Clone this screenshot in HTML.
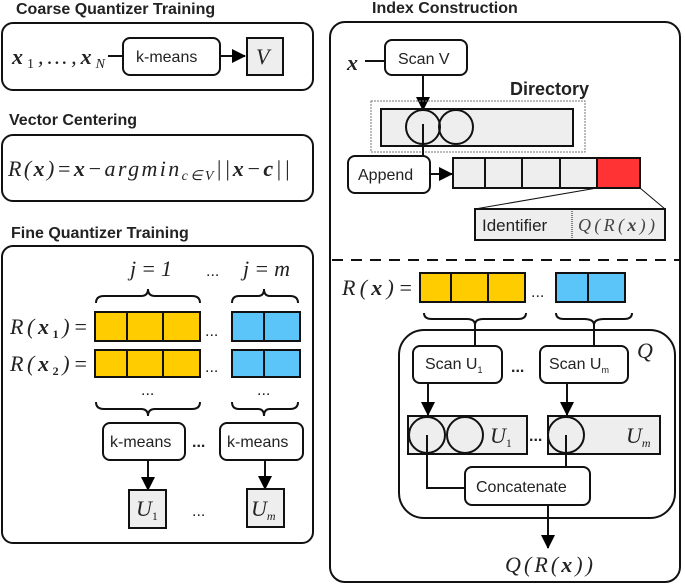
<!DOCTYPE html>
<html><head><style>
body{margin:0;background:#fff}
svg{display:block}
.t{font-family:"Liberation Sans",sans-serif;font-weight:bold;font-size:16px;fill:#222}
.s{font-family:"Liberation Sans",sans-serif;font-size:16px;fill:#222}
.m{font-family:"Liberation Serif",serif;font-style:italic;font-size:22px;fill:#222}
.b{font-weight:bold}
</style></head><body>
<svg width="685" height="585" viewBox="0 0 685 585" xmlns="http://www.w3.org/2000/svg">
<defs><marker id="a2" markerWidth="14" markerHeight="14" refX="13" refY="7" orient="auto" markerUnits="userSpaceOnUse"><path d="M0,0L14,7L0,14z" fill="#000"/></marker></defs>
<g fill="none" stroke="#111" stroke-width="2">
<rect x="2" y="23" width="311" height="67" rx="11"/>
<rect x="2" y="135" width="311" height="66" rx="11"/>
<rect x="2" y="246" width="311" height="297" rx="11"/>
<rect x="123" y="38" width="97" height="37" rx="7" fill="#fff"/>
<rect x="247" y="38" width="36" height="37" fill="#eee"/>
<line x1="108" y1="56" x2="123" y2="56"/>
<line x1="220" y1="56" x2="245" y2="56" marker-end="url(#a2)"/>
<path d="M96,303 q0,-7 8,-7 h37 q7,0 7,-7 q0,7 7,7 h37 q8,0 8,7"/>
<path d="M232,303 q0,-7 7,-7 h19 q6,0 6,-7 q0,7 6,7 h20 q8,0 8,7"/>
<rect x="95" y="312" width="105" height="29" fill="#fc0"/>
<line x1="127" y1="312" x2="127" y2="341"/><line x1="163" y1="312" x2="163" y2="341"/>
<rect x="232" y="312" width="68" height="29" fill="#5bc5fa"/>
<line x1="264" y1="312" x2="264" y2="341"/>
<rect x="95" y="350" width="105" height="27" fill="#fc0"/>
<line x1="127" y1="350" x2="127" y2="377"/><line x1="163" y1="350" x2="163" y2="377"/>
<rect x="232" y="350" width="68" height="27" fill="#5bc5fa"/>
<line x1="264" y1="350" x2="264" y2="377"/>
<path d="M96,402 q0,7 8,7 h37 q7,0 7,7 q0,-7 7,-7 h37 q8,0 8,-7"/>
<path d="M232,402 q0,7 7,7 h19 q6,0 6,7 q0,-7 6,-7 h20 q8,0 8,-7"/>
<rect x="103" y="423" width="82" height="37" rx="7" fill="#fff"/>
<rect x="220" y="423" width="83" height="37" rx="7" fill="#fff"/>
<line x1="148" y1="460" x2="148" y2="490" marker-end="url(#a2)"/>
<line x1="265" y1="460" x2="265" y2="489" marker-end="url(#a2)"/>
<rect x="129" y="490" width="37" height="38" fill="#eee"/>
<rect x="247" y="489" width="37" height="38" fill="#eee"/>
<rect x="330" y="22" width="350" height="560" rx="15"/>
<line x1="365" y1="61" x2="385" y2="61"/>
<rect x="385" y="40" width="82" height="35" rx="7" fill="#fff"/>
<line x1="423" y1="75" x2="423" y2="110" marker-end="url(#a2)"/>
<rect x="371" y="101" width="214" height="51" stroke-width="1" stroke="#777" stroke-dasharray="2,1"/>
<rect x="381" y="109" width="192" height="37" fill="#eee"/>
<circle cx="423" cy="127" r="17"/><circle cx="456" cy="127" r="17"/>
<line x1="423" y1="124" x2="423" y2="157"/>
<rect x="348" y="156" width="82" height="37" rx="7" fill="#fff"/>
<line x1="430" y1="174" x2="452" y2="174" marker-end="url(#a2)"/>
<rect x="453" y="158" width="187" height="30" fill="#eee"/>
<rect x="597" y="158" width="43" height="30" fill="#f33"/>
<line x1="485" y1="158" x2="485" y2="188"/><line x1="522" y1="158" x2="522" y2="188"/><line x1="560" y1="158" x2="560" y2="188"/>
<line x1="597" y1="188" x2="475" y2="209" stroke-width="1"/><line x1="640" y1="188" x2="665" y2="209" stroke-width="1"/>
<rect x="475" y="209" width="190" height="31" fill="#eee"/>
<line x1="572" y1="209" x2="572" y2="240" stroke-width="1" stroke-dasharray="1,1"/>
<line x1="332" y1="260" x2="680" y2="260" stroke-dasharray="11,8"/>
<rect x="420" y="273" width="105" height="29" fill="#fc0"/>
<line x1="451" y1="273" x2="451" y2="302"/><line x1="488" y1="273" x2="488" y2="302"/>
<rect x="556" y="273" width="69" height="29" fill="#5bc5fa"/>
<line x1="588" y1="273" x2="588" y2="302"/>
<path d="M424,313 q0,6 8,6 h35 q8,0 8,6 q0,-6 8,-6 h35 q8,0 8,-6"/>
<path d="M556,313 q0,6 8,6 h20 q10,0 10,6 q0,-6 10,-6 h20 q8,0 8,-6"/>
<rect x="399" y="330" width="276" height="188" rx="25"/>
<line x1="475" y1="325" x2="475" y2="346"/><line x1="594" y1="325" x2="594" y2="346"/>
<rect x="413" y="346" width="89" height="37" rx="7" fill="#fff"/>
<rect x="540" y="346" width="88" height="37" rx="7" fill="#fff"/>
<line x1="428" y1="383" x2="428" y2="415" marker-end="url(#a2)"/>
<line x1="567" y1="383" x2="567" y2="415" marker-end="url(#a2)"/>
<rect x="408" y="416" width="119" height="38" fill="#eee"/>
<rect x="548" y="416" width="112" height="38" fill="#eee"/>
<circle cx="427" cy="435" r="18"/><circle cx="465" cy="435" r="18"/><circle cx="566" cy="435" r="18"/>
<polyline points="427,435 427,488 465,488"/>
<line x1="566" y1="435" x2="566" y2="467"/>
<rect x="465" y="467" width="125" height="38" rx="7" fill="#fff"/>
<line x1="548" y1="505" x2="548" y2="548" marker-end="url(#a2)"/>
</g>
<text class="t" x="16" y="14">Coarse Quantizer Training</text>
<text class="t" x="9" y="125">Vector Centering</text>
<text class="t" x="11" y="238">Fine Quantizer Training</text>
<text class="t" x="372" y="13">Index Construction</text>
<text class="t" x="510" y="95" style="font-size:18px">Directory</text>
<text class="m" x="12" y="64" textLength="93" lengthAdjust="spacing"><tspan class="b">x</tspan><tspan font-size="14" dy="4" font-style="normal">1</tspan><tspan dy="-4">,…,</tspan><tspan class="b">x</tspan><tspan font-size="14" dy="4">N</tspan></text>
<text class="s" x="136" y="62">k-means</text>
<text class="m" x="256" y="64">V</text>
<text class="m" x="8" y="176" textLength="282" lengthAdjust="spacing">R(<tspan class="b">x</tspan>)=<tspan class="b">x</tspan>−argmin<tspan font-size="14" dy="4">c∈V</tspan><tspan dy="-4">||</tspan><tspan class="b">x</tspan>−<tspan class="b">c</tspan>||</text>
<text class="m" x="130" y="276" textLength="42" lengthAdjust="spacing">j=1</text>
<text class="s" x="206" y="276">...</text>
<text class="m" x="243" y="276" textLength="47" lengthAdjust="spacing">j=m</text>
<text class="m" x="10" y="334" textLength="78" lengthAdjust="spacing">R(<tspan class="b">x</tspan><tspan font-size="12" dy="4" class="b" font-style="normal">1</tspan><tspan dy="-4">)=</tspan></text>
<text class="m" x="10" y="371" textLength="78" lengthAdjust="spacing">R(<tspan class="b">x</tspan><tspan font-size="12" dy="4" class="b" font-style="normal">2</tspan><tspan dy="-4">)=</tspan></text>
<text class="s" x="205" y="336">...</text><text class="s" x="205" y="372">...</text>
<text class="s" x="141" y="395">...</text><text class="s" x="257" y="395">...</text>
<text class="s" x="110" y="447">k-means</text><text class="s" x="227" y="447">k-means</text>
<text class="s" x="192" y="447" font-weight="bold">...</text>
<text class="m" x="136" y="516">U<tspan font-size="12" dy="4" font-style="normal">1</tspan></text>
<text class="m" x="251" y="516">U<tspan font-size="12" dy="4">m</tspan></text>
<text class="s" x="192" y="516">...</text>
<text class="m" x="347" y="70" style="font-weight:bold">x</text>
<text class="s" x="398" y="64">Scan V</text>
<text class="s" x="358" y="180">Append</text>
<text class="s" x="482" y="231" style="font-size:17px">Identifier</text>
<text class="m" x="578" y="231" style="font-size:18px;fill:#444" textLength="77" lengthAdjust="spacing">Q(R(<tspan class="b">x</tspan>))</text>
<text class="m" x="342" y="295" textLength="71" lengthAdjust="spacing">R(<tspan class="b">x</tspan>)=</text>
<text class="s" x="531" y="297">...</text>
<text class="m" x="637" y="358">Q</text>
<text class="s" x="425" y="369">Scan U<tspan font-size="9" dy="4">1</tspan></text>
<text class="s" x="549" y="369">Scan U<tspan font-size="9" dy="4">m</tspan></text>
<text class="s" x="511" y="372" font-weight="bold">...</text>
<text class="m" x="490" y="443">U<tspan font-size="12" dy="4" font-style="normal">1</tspan></text>
<text class="s" x="529" y="441" font-weight="bold">...</text>
<text class="m" x="626" y="443">U<tspan font-size="12" dy="4">m</tspan></text>
<text class="s" x="476" y="492">Concatenate</text>
<text class="m" x="505" y="572" textLength="88" lengthAdjust="spacing">Q(R(<tspan class="b">x</tspan>))</text>
</svg>
</body></html>
